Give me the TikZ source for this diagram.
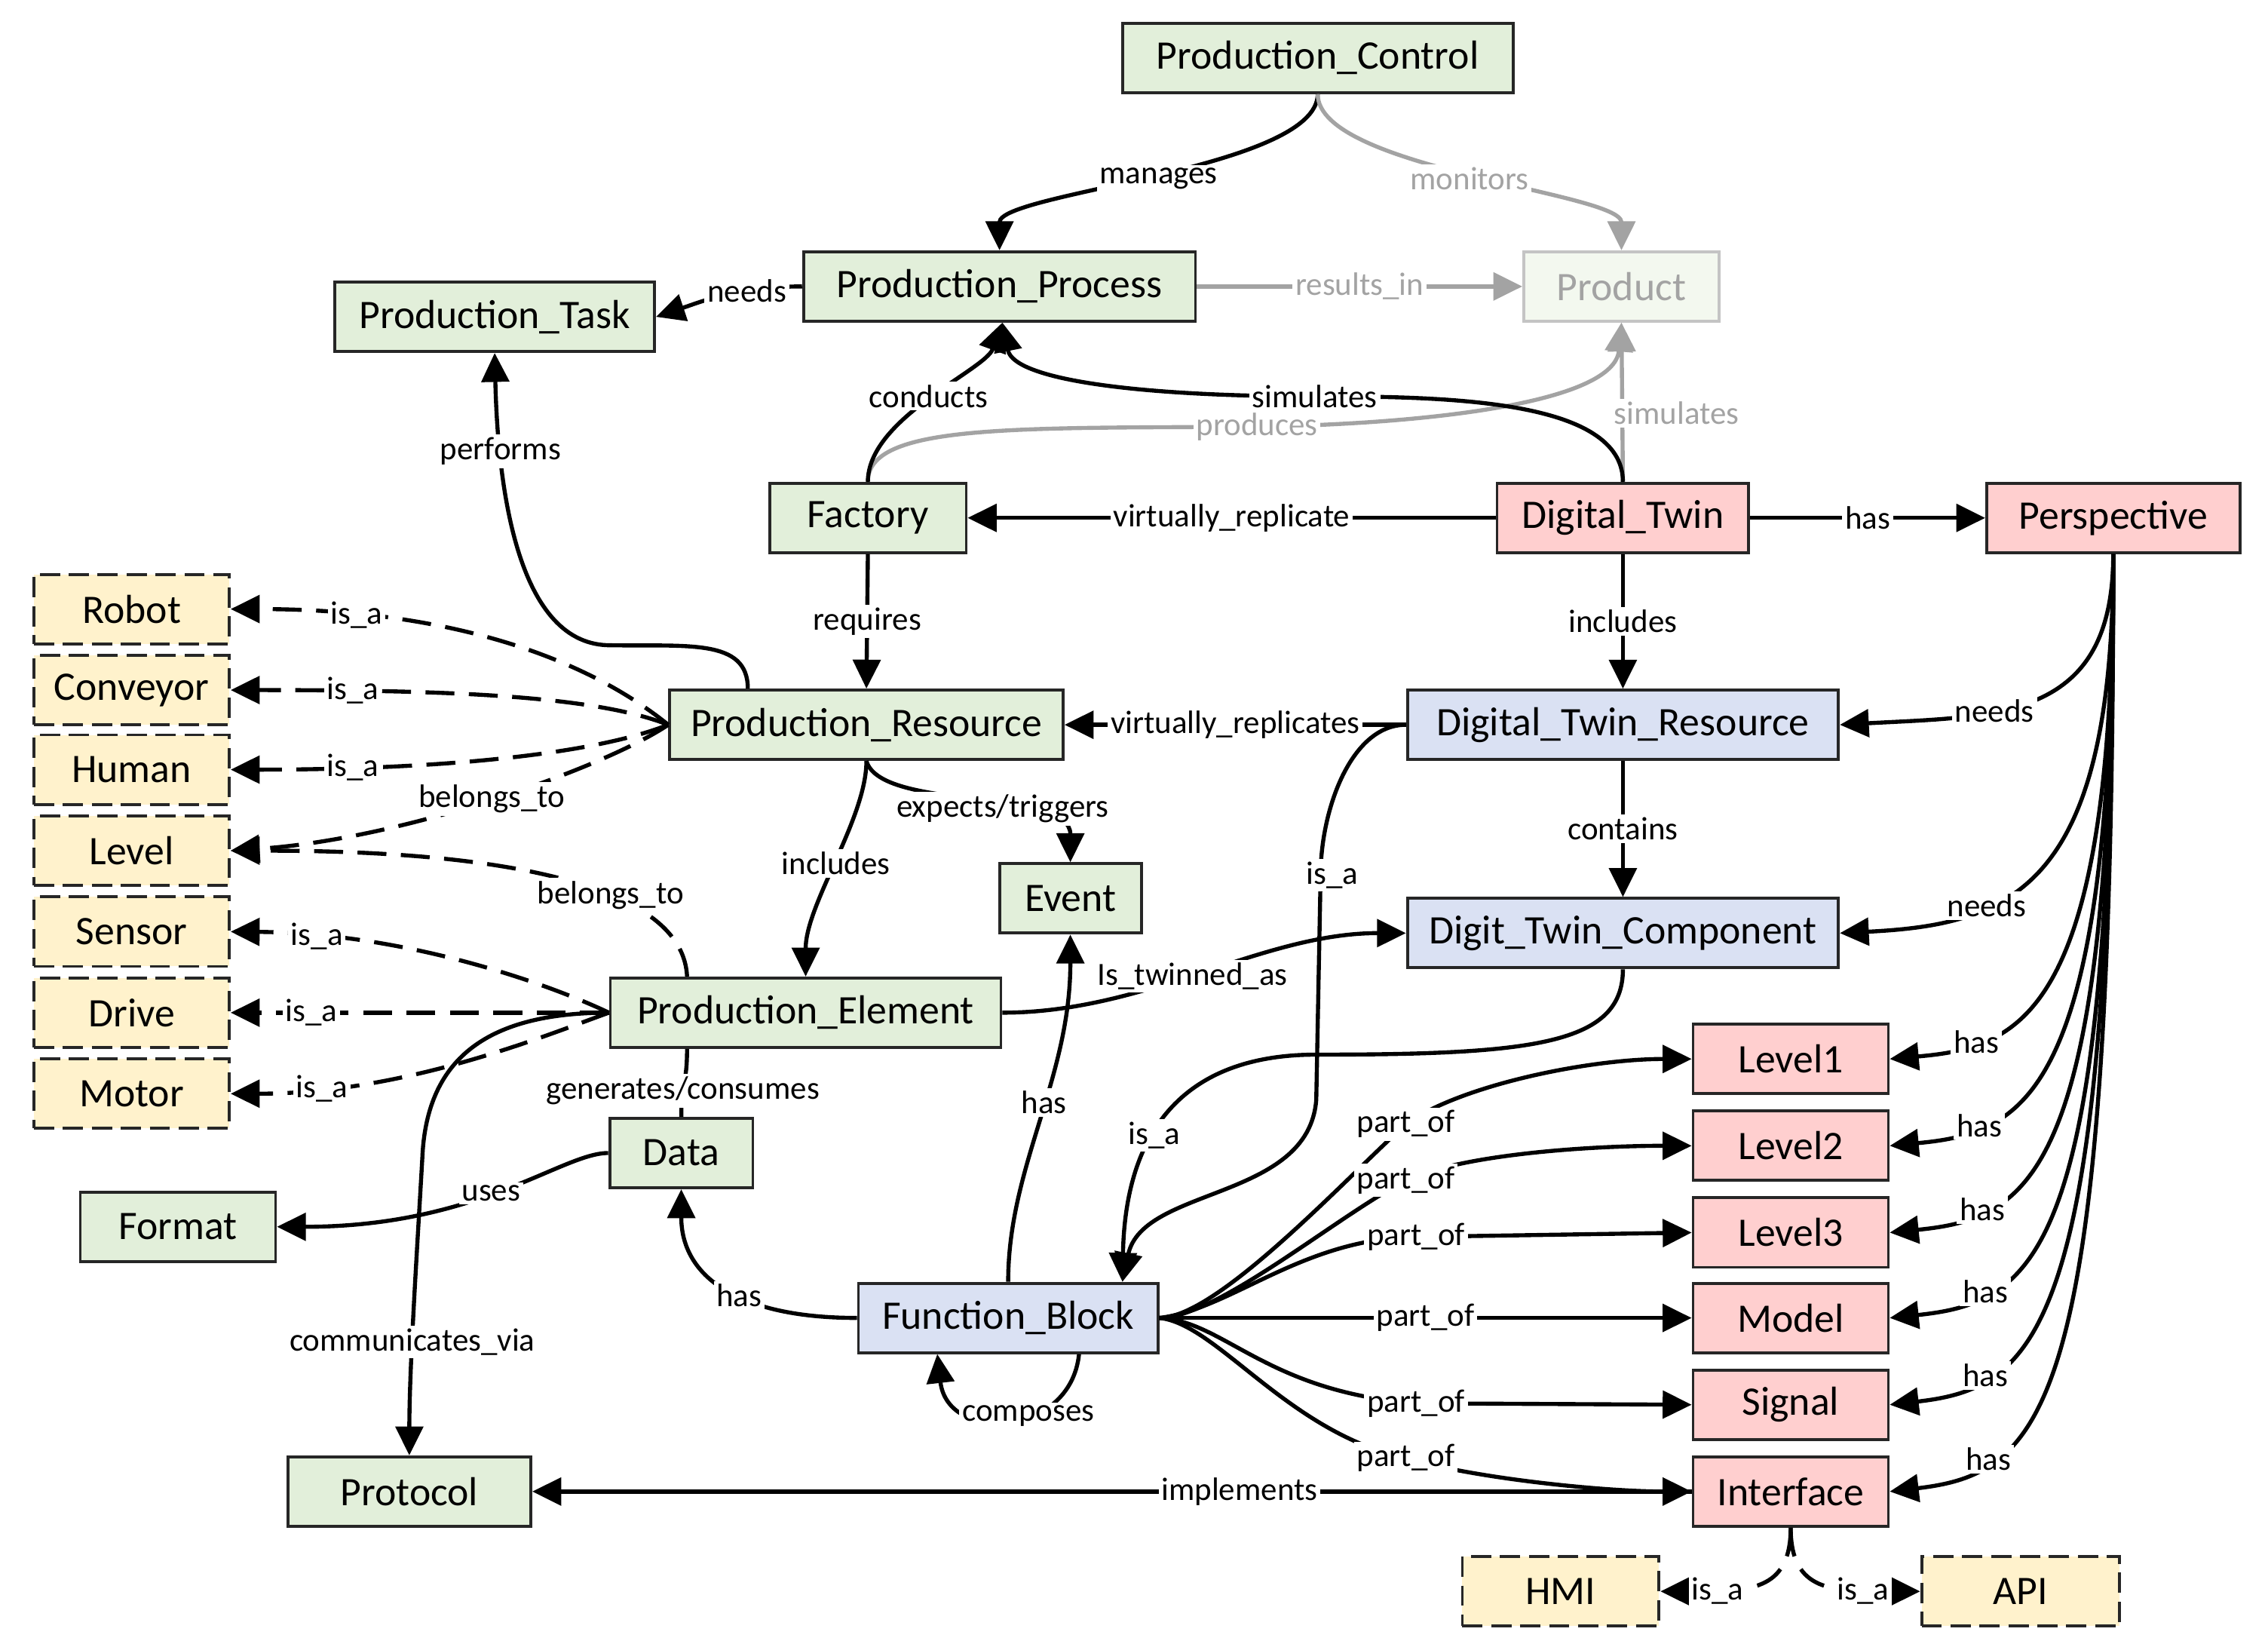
\documentclass[tikz,border=0pt]{standalone}
\usepackage{fontspec}
\setmainfont{Carlito}
\usetikzlibrary{arrows.meta,calc}
\definecolor{gfill}{HTML}{E2EFDA}
\definecolor{pfill}{HTML}{FFCFCF}
\definecolor{bfill}{HTML}{DAE1F3}
\definecolor{yfill}{HTML}{FFF2CC}
\definecolor{bord}{HTML}{262626}
\definecolor{fade}{HTML}{A3A3A3}
\definecolor{fadefill}{HTML}{F3F8EF}
\definecolor{fadebord}{HTML}{C4C4C4}
\begin{document}
\begin{tikzpicture}[x=0.5pt,y=-0.5pt,
 box/.style={draw=bord, line width=1pt, minimum height=24pt, inner sep=0pt, font=\fontsize{14}{16}\selectfont},
 gbox/.style={box, fill=gfill},
 pbox/.style={box, fill=pfill},
 bbox/.style={box, fill=bfill},
 ybox/.style={box, fill=yfill, dash pattern=on 7pt off 3pt},
 fbox/.style={box, fill=fadefill, draw=fadebord, text=fade},
 e/.style={line width=1.4pt, -{Triangle[length=10pt,width=9.5pt]}},
 ge/.style={e, draw=fade},
 de/.style={e, dash pattern=on 10pt off 5pt},
 el/.style={fill=white, inner sep=1pt, font=\fontsize{11.2}{13}\selectfont, text=black},
 gl/.style={el, text=fade},
]
\useasboundingbox (0,0) rectangle (1568,1138);

% nodes
\node[gbox, minimum width=135pt] (pc) at (911,40) {Production\_Control};
\node[gbox, minimum width=135.5pt] (pp) at (691,198) {Production\_Process};
\node[gbox, minimum width=110.5pt] (pt) at (342,219) {Production\_Task};
\node[fbox, minimum width=67.5pt] (prod) at (1121,198) {Product};
\node[gbox, minimum width=68pt] (fac) at (600,358) {Factory};
\node[pbox, minimum width=87pt] (dt) at (1122,358) {Digital\_Twin};
\node[pbox, minimum width=87.5pt] (per) at (1461,358) {Perspective};
\node[gbox, minimum width=136pt] (pr) at (599,501) {Production\_Resource};
\node[bbox, minimum width=149pt] (dtr) at (1122,501) {Digital\_Twin\_Resource};
\node[gbox, minimum width=49pt] (ev) at (740,621) {Event};
\node[bbox, minimum width=149pt] (dtc) at (1122,645) {Digit\_Twin\_Component};
\node[gbox, minimum width=135pt] (pe) at (557,700) {Production\_Element};
\node[gbox, minimum width=49.5pt] (data) at (471,797) {Data};
\node[gbox, minimum width=67.5pt] (fmt) at (123,848) {Format};
\node[bbox, minimum width=103.5pt] (fb) at (697,911) {Function\_Block};
\node[gbox, minimum width=84pt] (proto) at (283,1031) {Protocol};
\node[pbox, minimum width=67.5pt] (l1) at (1238,732) {Level1};
\node[pbox, minimum width=67.5pt] (l2) at (1238,792) {Level2};
\node[pbox, minimum width=67.5pt] (l3) at (1238,852) {Level3};
\node[pbox, minimum width=67.5pt] (model) at (1238,911) {Model};
\node[pbox, minimum width=67.5pt] (sig) at (1238,971) {Signal};
\node[pbox, minimum width=67.5pt] (intf) at (1238,1031) {Interface};
\node[ybox, minimum width=68pt] (hmi) at (1079,1100) {HMI};
\node[ybox, minimum width=68.5pt] (api) at (1397,1100) {API};
\node[ybox, minimum width=67.5pt] (robot) at (91,421) {Robot};
\node[ybox, minimum width=67.5pt] (conv) at (91,477) {Conveyor};
\node[ybox, minimum width=67.5pt] (human) at (91,532) {Human};
\node[ybox, minimum width=67.5pt] (level) at (91,588) {Level};
\node[ybox, minimum width=67.5pt] (sensor) at (91,644) {Sensor};
\node[ybox, minimum width=67.5pt] (drive) at (91,700) {Drive};
\node[ybox, minimum width=67.5pt] (motor) at (91,756) {Motor};

% top
\draw[e] (pc.south) .. controls +(0,52) and +(0,-40) .. (pp.north) node[el,pos=0.5]{manages};
\draw[ge] (pc.south) .. controls +(0,52) and +(0,-40) .. (prod.north) node[gl,pos=0.5]{monitors};
\draw[e] (pp.west) .. controls +(-45,0) and +(30,-10) .. (pt.east) node[el,pos=0.32]{needs};
\draw[ge] (pp.east) -- (prod.west) node[gl,midway]{results\_in};
\draw[ge] (fac.north) .. controls +(0,-40) and (700,296) .. (869,295) node[gl]{produces} .. controls (990,293) and +(-5,55) .. (prod.south);
\draw[ge] (dt.north) -- (prod.south) node[gl,pos=0.43,anchor=west,xshift=-4.5pt]{simulates};
\draw[e] (fac.north) .. controls +(0,-44) and +(-12,33) .. ($(pp.south)+(2,0)$) node[el,pos=0.5]{conducts};
\draw[e] (dt.north) .. controls +(0,-57) and (1000,274) .. (909,274) node[el]{simulates} .. controls (790,274) and +(8,40) .. ($(pp.south)+(2,0)$);
\draw[e] (dt.west) -- (fac.east) node[el,midway]{virtually\_replicate};
\draw[e] (dt.east) -- (per.west) node[el,midway]{has};
\draw[e] (fac.south) -- (pr.north) node[el,midway]{requires};
\draw[e] (dt.south) -- (dtr.north) node[el,midway]{includes};
\draw[e] (dtr.south) -- (dtc.north) node[el,midway]{contains};
\draw[e] (dtr.west) -- (pr.east) node[el,midway]{virtually\_replicates};
\draw[e] ($(pr.north west)+(55,0)$) .. controls +(0,-35) and (475,447) .. (420,446) .. controls (356,444) and +(2,87) .. (pt.south) node[el,pos=0.75]{performs};

% perspective fan
\draw[e] (per.south) .. controls +(0,115) and +(110,-6) .. (dtr.east) node[el,pos=0.63]{needs};
\draw[e] (per.south) .. controls +(0,230) and +(120,-6) .. (dtc.east) node[el,pos=0.67]{needs};
\draw[e] (per.south) .. controls +(0,320) and +(90,-8) .. (l1.east) node[el,pos=0.76]{has};
\draw[e] (per.south) .. controls +(0,374) and +(95,-9) .. (l2.east) node[el,pos=0.76]{has};
\draw[e] (per.south) .. controls +(0,428) and +(100,-10) .. (l3.east) node[el,pos=0.76]{has};
\draw[e] (per.south) .. controls +(0,480) and +(105,-11) .. (model.east) node[el,pos=0.76]{has};
\draw[e] (per.south) .. controls +(0,534) and +(105,-12) .. (sig.east) node[el,pos=0.76]{has};
\draw[e] (per.south) .. controls +(0,588) and +(110,-13) .. (intf.east) node[el,pos=0.76]{has};

% left dashed fans
\draw[de] (pr.west) .. controls +(-63,-51) and +(141,0) .. (robot.east) node[el,pos=0.78]{is\_a};
\draw[de] (pr.west) .. controls +(-53,-21) and +(141,0) .. (conv.east) node[el,pos=0.79]{is\_a};
\draw[de] (pr.west) .. controls +(-53,21) and +(141,0) .. (human.east) node[el,pos=0.79]{is\_a};
\draw[de] (pr.west) .. controls +(-43,29) and +(121,-8) .. (level.east) node[el,pos=0.5]{belongs\_to};
\draw[de] ($(pe.north west)+(54,0)$) .. controls +(-4,-85) and +(90,0) .. (level.east) node[el,pos=0.3]{belongs\_to};
\draw[de] (pe.west) .. controls +(-42,-20) and +(121,1) .. (sensor.east) node[el,pos=0.83]{is\_a};
\draw[de] (pe.west) -- (drive.east) node[el,pos=0.787]{is\_a};
\draw[de] (pe.west) .. controls +(-42,15) and +(121,0) .. (motor.east) node[el,pos=0.82]{is\_a};

% middle
\draw[e] (pr.south) .. controls +(0,40) and +(0,-50) .. (pe.north) node[el,pos=0.5]{includes};
\draw[e] (pr.south) .. controls +(10,35) and +(0,-52) .. (ev.north) node[el,pos=0.6]{expects/triggers};
\draw[e] (pe.east) .. controls +(100,0) and +(-100,0) .. (dtc.west) node[el,pos=0.47]{Is\_twinned\_as};
\draw[line width=1.4pt] ($(pe.south west)+(54,0)$) .. controls +(0,25) and +(0,-25) .. (data.north) node[el,pos=0.66]{generates/consumes};
\draw[e] (pe.west) .. controls +(-82,0) and (295,730) .. (292,800) .. controls (288,870) and +(0,-60) .. (proto.north) node[el,pos=0.6]{communicates\_via};
\draw[e] (data.west) .. controls +(-32,0) and +(139,0) .. (fmt.east) node[el,pos=0.53]{uses};
\draw[e] (fb.west) .. controls +(-83,0) and +(0,60) .. (data.south) node[el,pos=0.42]{has};
\draw[e] (fb.north) .. controls +(0,-80) and +(0,100) .. (ev.south) node[el,pos=0.55]{has};
\draw[e] ($(fb.south)+(49,0)$) .. controls +(-6,58) and +(7,62) .. ($(fb.south)+(-49,0)$) node[el,pos=0.4]{composes};
\draw[e] (dtr.west) .. controls +(-38,0) and +(0,-45) .. (913,605) node[el,xshift=4pt]{is\_a} -- (910,760) .. controls (905,830) and (790,820) .. ($(fb.north)+(79,0)$);
\draw[e] (dtc.south) .. controls +(0,52) and (1060,729) .. (910,729) .. controls (820,729) and (778,780) .. ($(fb.north)+(79,0)$) node[el,pos=0.6]{is\_a};

% part_of
\draw[e] (fb.east) .. controls +(40,0) and (930,815) .. (972,777) node[el]{part\_of} .. controls (1010,750) and +(-71,0) .. (l1.west);
\draw[e] (fb.east) .. controls +(40,0) and (925,840) .. (972,816) node[el]{part\_of} .. controls (1010,798) and +(-71,0) .. (l2.west);
\draw[e] (fb.east) .. controls +(50,-6) and (900,856) .. (979,855) node[el]{part\_of} -- (l3.west);
\draw[e] (fb.east) -- (model.west) node[el,pos=0.5]{part\_of};
\draw[e] (fb.east) .. controls +(45,2) and (875,962) .. (979,970) node[el]{part\_of} -- (sig.west);
\draw[e] (fb.east) .. controls +(40,4) and (890,990) .. (972,1008) node[el]{part\_of} .. controls (1020,1022) and +(-61,0) .. (intf.west);

% bottom
\draw[e] (intf.west) -- (proto.east) node[el,pos=0.39]{implements};
\draw[de] (intf.south) .. controls +(0,45) and +(60,0) .. (hmi.east) node[el,pos=0.75]{is\_a};
\draw[de] (intf.south) .. controls +(0,45) and +(-60,0) .. (api.west) node[el,pos=0.75]{is\_a};
\end{tikzpicture}
\end{document}
